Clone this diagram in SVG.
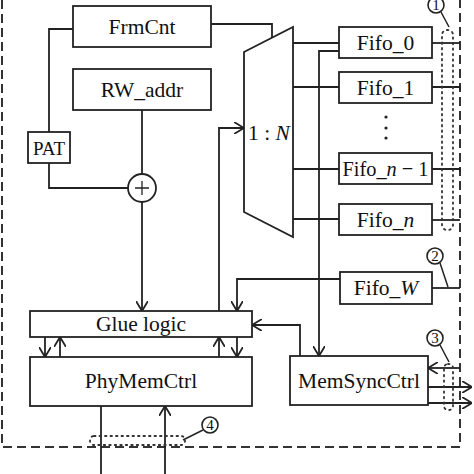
<svg xmlns="http://www.w3.org/2000/svg" width="474" height="474" viewBox="0 0 474 474">
<defs>
<style>
.box{fill:#fff;stroke:#222;stroke-width:1.8}
.ln{fill:none;stroke:#222;stroke-width:1.8}
.arr{fill:none;stroke:#222;stroke-width:1.8;marker-end:url(#ah)}
.dash{fill:none;stroke:#333;stroke-width:2;stroke-dasharray:9,5}
.dot{fill:none;stroke:#333;stroke-width:1.8;stroke-dasharray:1.5,4;stroke-linecap:round}
.t{font-family:"Liberation Serif","DejaVu Serif",serif;font-size:21.5px;fill:#111;text-anchor:middle}
.c{font-family:"Liberation Serif","DejaVu Serif",serif;font-size:15px;fill:#111;text-anchor:middle}
.circ{fill:#fff;stroke:#222;stroke-width:1.6}
</style>
<marker id="ah" viewBox="0 0 10 12" refX="10" refY="6" markerWidth="10" markerHeight="12" markerUnits="userSpaceOnUse" orient="auto">
<path d="M0,0 L10,6 L0,12" fill="none" stroke="#222" stroke-width="1.8"/>
</marker>
</defs>
<rect width="474" height="474" fill="#fff"/>

<g id="border">
<path class="dash" d="M2,0 L2,447 L460,447 L460,0"/>
</g>

<g id="connectors">
<path class="ln" d="M211,24 L272,24 L272,38"/>
<path class="ln" d="M73,29 L49,29 L49,132"/>
<path class="ln" d="M49,163 L49,188 L128,188"/>
<path class="ln" d="M142,110 L142,174"/>
<path class="arr" d="M142,202 L142,311"/>
<path class="arr" d="M219,311 L219,128 L244,128"/>
<path class="ln" d="M293,43 L339,43"/>
<path class="ln" d="M293,87 L339,87"/>
<path class="ln" d="M293,169 L339,169"/>
<path class="ln" d="M293,219 L339,219"/>
<path class="arr" d="M339,51 L319,51 L319,356"/>
<path class="ln" d="M432,43 L460,43"/>
<path class="ln" d="M432,87 L460,87 L460,90"/>
<path class="ln" d="M432,169 L460,169 L460,172"/>
<path class="ln" d="M432,220 L460,220"/>
<path class="arr" d="M340,279 L237,279 L237,311"/>
<path class="ln" d="M432,288 L460,288"/>
<path class="arr" d="M300,356 L300,325 L252,325"/>
<path class="arr" d="M45,337 L45,357"/>
<path class="arr" d="M60,357 L60,337"/>
<path class="arr" d="M219,357 L219,337"/>
<path class="arr" d="M237,337 L237,357"/>
<path class="arr" d="M460,368 L428,368"/>
<path class="arr" d="M428,387 L472,387"/>
<path class="arr" d="M428,403 L472,403"/>
<path class="ln" d="M101,406 L101,474"/>
<path class="arr" d="M165,474 L165,406"/>
</g>

<g id="FrmCnt"><rect class="box" x="73" y="6" width="138" height="41"/><text class="t" x="142" y="34">FrmCnt</text></g>
<g id="RW_addr"><rect class="box" x="73" y="69" width="138" height="41"/><text class="t" x="142" y="97">RW_addr</text></g>
<g id="PAT"><rect class="box" x="28" y="132" width="42" height="31"/><text class="t" x="49" y="155" style="font-size:19px">PAT</text></g>
<g id="adder"><circle class="box" cx="142" cy="188" r="14"/><path class="ln" d="M135,188 L149,188 M142,181 L142,195" style="stroke-width:1.3"/></g>
<g id="mux"><path class="box" d="M244,52 L293,27 L293,237 L244,212 Z"/><text class="t" x="269" y="140">1 : <tspan font-style="italic">N</tspan></text></g>
<g id="Fifo_0"><rect class="box" x="339" y="27" width="93" height="31"/><text class="t" x="385.5" y="50">Fifo_0</text></g>
<g id="Fifo_1"><rect class="box" x="339" y="72" width="93" height="31"/><text class="t" x="385.5" y="95">Fifo_1</text></g>
<g id="vdots"><circle cx="386" cy="117" r="1.6" fill="#222"/><circle cx="386" cy="128" r="1.6" fill="#222"/><circle cx="386" cy="138" r="1.6" fill="#222"/></g>
<g id="Fifo_n-1"><rect class="box" x="339" y="153" width="93" height="31"/><text class="t" x="385.5" y="176" textLength="86" lengthAdjust="spacingAndGlyphs">Fifo_<tspan font-style="italic">n</tspan> − 1</text></g>
<g id="Fifo_n"><rect class="box" x="339" y="204" width="93" height="31"/><text class="t" x="385.5" y="227">Fifo_<tspan font-style="italic">n</tspan></text></g>
<g id="Fifo_W"><rect class="box" x="340" y="272" width="92" height="32"/><text class="t" x="386" y="295">Fifo_<tspan font-style="italic">W</tspan></text></g>
<g id="GlueLogic"><rect class="box" x="30" y="311" width="222" height="26"/><text class="t" x="141" y="331">Glue logic</text></g>
<g id="PhyMemCtrl"><rect class="box" x="30" y="357" width="222" height="49"/><text class="t" x="141" y="388">PhyMemCtrl</text></g>
<g id="MemSyncCtrl"><rect class="box" x="290" y="356" width="138" height="49"/><text class="t" x="359" y="388">MemSyncCtrl</text></g>

<g id="annot1">
<rect class="dot" x="442" y="30" width="11" height="200" rx="5"/>
<path class="ln" d="M441,12 L449,27" style="stroke-width:1.5"/>
<circle class="circ" cx="436" cy="5" r="8"/><text class="c" x="436" y="10">1</text>
</g>
<g id="annot2">
<path class="ln" d="M440,263 L448,287" style="stroke-width:1.5"/>
<circle class="circ" cx="435" cy="256" r="8"/><text class="c" x="435" y="261">2</text>
</g>
<g id="annot3">
<rect class="dot" x="444" y="364" width="9" height="46" rx="4"/>
<path class="ln" d="M440,345 L449,362" style="stroke-width:1.5"/>
<circle class="circ" cx="435" cy="338" r="8"/><text class="c" x="435" y="343">3</text>
</g>
<g id="annot4">
<rect class="dot" x="90" y="436" width="95" height="9" rx="4"/>
<path class="ln" d="M183,440 L203,430" style="stroke-width:1.5"/>
<circle class="circ" cx="210" cy="425" r="8"/><text class="c" x="210" y="430">4</text>
</g>
</svg>
